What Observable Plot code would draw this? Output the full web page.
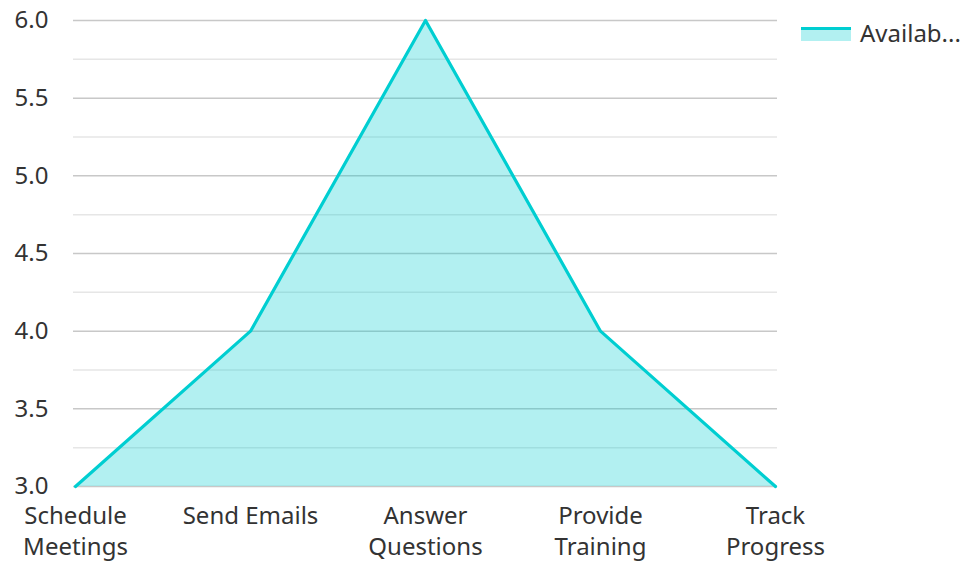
<!DOCTYPE html>
<html>
<head>
<meta charset="utf-8">
<script src="https://cdn.jsdelivr.net/npm/d3@7"></script>
<script src="https://cdn.jsdelivr.net/npm/@observablehq/plot@0.6"></script>
<style>
  html, body { margin: 0; padding: 0; background: #fff; }
  #wrap { position: relative; width: 966px; height: 562px; font-family: "Noto Sans", sans-serif; }
  #legend { position: absolute; left: 801px; top: 17px; display: flex; align-items: center; font-size: 24px; line-height: 32px; color: #333; }
  #legend .sw { width: 50px; height: 14px; background: rgba(0,206,209,0.3); border-top: 3px solid #00CED1; box-sizing: border-box; margin-right: 9px; margin-top: 2px; }
</style>
</head>
<body>
<div id="wrap"><div id="legend"><div class="sw"></div><span>Availab...</span></div></div>
<script>
const categories = ["Schedule Meetings", "Send Emails", "Answer Questions", "Provide Training", "Track Progress"];
const tickLabels = ["Schedule\nMeetings", "Send Emails", "Answer\nQuestions", "Provide\nTraining", "Track\nProgress"];
const values = [3, 4, 6, 4, 3];
const seriesName = "Availability";
const majorTicks = [3, 3.5, 4, 4.5, 5, 5.5, 6];
const minorTicks = [3.25, 3.75, 4.25, 4.75, 5.25, 5.75];

const data = categories.map((c, i) => ({category: c, value: values[i], series: seriesName}));
const labelOf = new Map(categories.map((c, i) => [c, tickLabels[i]]));

const chart = Plot.plot({
  width: 966,
  height: 562,
  marginLeft: 75,
  marginRight: 191,
  marginTop: 20,
  marginBottom: 76,
  style: {fontFamily: "Noto Sans, sans-serif", fontSize: "24px", color: "#333", background: "#fff"},
  x: {type: "point", domain: categories, padding: 0},
  y: {domain: [3, 6]},
  marks: [
    Plot.ruleY(minorTicks, {stroke: "#e6e6e6", strokeWidth: 1.5, insetLeft: -2, insetRight: -2}),
    Plot.ruleY(majorTicks, {stroke: "#c8c8c8", strokeWidth: 1.5, insetLeft: -2, insetRight: -2}),
    Plot.areaY(data, {x: "category", y1: 3, y2: "value", fill: "#00CED1", fillOpacity: 0.3}),
    Plot.lineY(data, {x: "category", y: "value", stroke: "#00CED1", strokeWidth: 3.2}),
    Plot.axisY({ticks: majorTicks, tickSize: 0, tickPadding: 27, tickFormat: d => d.toFixed(1), fontSize: 24, fill: "#333", label: null}),
    Plot.axisX({tickSize: 0, tickPadding: 15, tickFormat: d => labelOf.get(d), fontSize: 24, lineHeight: 1.3, fill: "#333", label: null})
  ]
});
document.getElementById("wrap").prepend(chart);
</script>
</body>
</html>
